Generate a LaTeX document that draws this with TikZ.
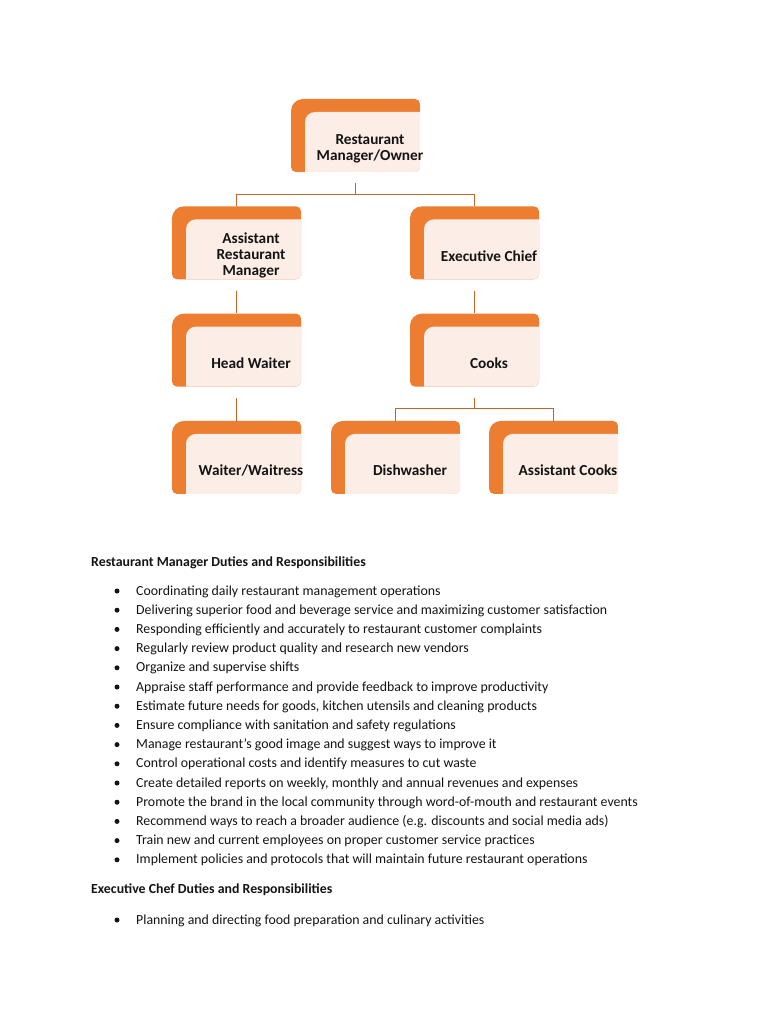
\documentclass[tikz,border=0pt]{standalone}
\usepackage{fontspec}
\setmainfont{Carlito}
\usepackage{xcolor}
\definecolor{boxorange}{RGB}{237,125,49}
\definecolor{boxlight}{RGB}{252,238,230}
\definecolor{linkbrown}{RGB}{197,100,45}
\definecolor{inkgray}{RGB}{20,20,20}

\begin{document}
\begin{tikzpicture}[x=1pt,y=-1pt]
    \tikzstyle{orgbox}=[rectangle, rounded corners=5pt, minimum width=129pt, minimum height=73pt, inner sep=0pt,
        path picture={
            \fill[boxorange, sharp corners] (path picture bounding box.south west)
                -- ([yshift=-12pt]path picture bounding box.north west)
                arc[start angle=180, end angle=90, radius=12pt]
                -- (path picture bounding box.north east) -- (path picture bounding box.south east) -- cycle;
            \fill[boxlight, rounded corners=10pt] ([shift={(14pt,-13pt)}]path picture bounding box.north west)
                rectangle ([shift={(12pt,-12pt)}]path picture bounding box.south east);
        }]
    \tikzstyle{boxtext}=[xshift=14.5pt, yshift=-13pt, align=center, inner sep=0pt, text=inkgray,
        font=\fontsize{15.3}{16}\selectfont\bfseries]
    \tikzstyle{link}=[draw=linkbrown, line width=1.3pt]
    \tikzstyle{level 1}=[sibling distance=238pt]
    \tikzstyle{level 3}=[sibling distance=158pt]
    \tikzstyle{dutyhead}=[anchor=base west, inner sep=0pt, text=inkgray, font=\fontsize{13.85}{16}\selectfont\bfseries]
    \tikzstyle{dutytext}=[anchor=base west, inner sep=0pt, text=inkgray, font=\fontsize{13.85}{16}\selectfont]
    \tikzstyle{dot}=[circle, fill=inkgray, inner sep=0pt, minimum size=5pt]
    \useasboundingbox (0,0) rectangle (768,1024);

    % chart
    \node[orgbox, label={[boxtext]center:Restaurant\\Manager/Owner}] (owner) at (355.5,135.5) {}
        [level distance=107.3pt, edge from parent/.style={link},
         edge from parent path={([yshift=-11pt]\tikzparentnode.south) -- ([yshift=-22pt]\tikzparentnode.south) -| (\tikzchildnode.north)}]
        child {node[orgbox, label={[boxtext]center:Assistant\\Restaurant\\Manager}] (asstmgr) {}
            child {node[orgbox, label={[boxtext]center:Head Waiter}] (headwaiter) {}
                child {node[orgbox, label={[boxtext]center:Waiter/Waitress}] (waiter) {}}
            }
        }
        child {node[orgbox, label={[boxtext]center:Executive Chief}] (chef) {}
            child {node[orgbox, label={[boxtext]center:Cooks}] (cooks) {}
                child {node[orgbox, label={[boxtext]center:Dishwasher}] (dishwasher) {}}
                child {node[orgbox, label={[boxtext]center:Assistant Cooks}] (asstcooks) {}}
            }
        };

    % duties
    \node[dutyhead] (mgrhead) at (91,566) {Restaurant Manager Duties and Responsibilities};
    \foreach \t [count=\i] in {
        {Coordinating daily restaurant management operations},
        {Delivering superior food and beverage service and maximizing customer satisfaction},
        {Responding efficiently and accurately to restaurant customer complaints},
        {Regularly review product quality and research new vendors},
        {Organize and supervise shifts},
        {Appraise staff performance and provide feedback to improve productivity},
        {Estimate future needs for goods, kitchen utensils and cleaning products},
        {Ensure compliance with sanitation and safety regulations},
        {Manage restaurant’s good image and suggest ways to improve it},
        {Control operational costs and identify measures to cut waste},
        {Create detailed reports on weekly, monthly and annual revenues and expenses},
        {Promote the brand in the local community through word-of-mouth and restaurant events},
        {Recommend ways to reach a broader audience (e.g. discounts and social media ads)},
        {Train new and current employees on proper customer service practices},
        {Implement policies and protocols that will maintain future restaurant operations}} {
        \node[dot] (mgrdot\i) at (117,{591+19.2*(\i-1)}) {};
        \node[dutytext] (mgrduty\i) at (136,{595+19.2*(\i-1)}) {\t};
    }
    \node[dutyhead] (chefhead) at (91,893) {Executive Chef Duties and Responsibilities};
    \node[dot] (chefdot1) at (117,920) {};
    \node[dutytext] (chefduty1) at (136,924) {Planning and directing food preparation and culinary activities};
\end{tikzpicture}
\end{document}
